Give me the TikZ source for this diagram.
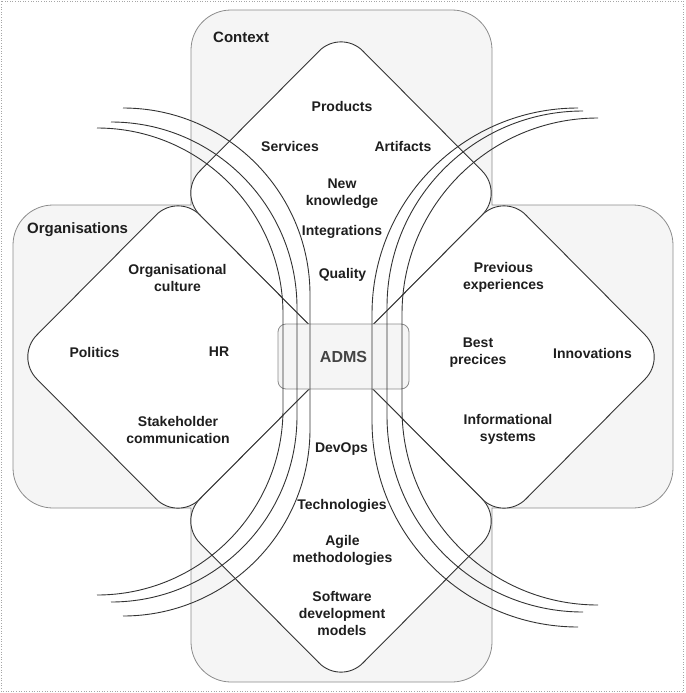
\documentclass[tikz,border=0pt]{standalone}
\usepackage{fontspec}
\setmainfont{Liberation Sans}
\definecolor{boxfill}{HTML}{F5F5F5}
\definecolor{boxline}{HTML}{8C8C8C}
\definecolor{ink}{HTML}{333333}
\definecolor{txt}{HTML}{1E1E1E}
\definecolor{admstxt}{HTML}{444444}
\begin{document}
\begin{tikzpicture}[x=1pt,y=1pt,
  lbl/.style={align=center, inner sep=0pt, font=\fontsize{14}{17}\selectfont\bfseries, text=txt},
  ttl/.style={anchor=west, inner sep=0pt, font=\fontsize{15}{18}\selectfont\bfseries, text=txt},
  dia/.style={draw=ink, fill=white, line width=0.9pt, rounded corners=31pt},
  crv/.style={draw=ink, line width=0.9pt},
  frame/.style={draw=boxline, fill=boxfill, line width=0.8pt},
]
\useasboundingbox (0,0) rectangle (685,-693);
\draw[draw=gray!70, dotted, line width=0.6pt] (1.5,-1.5) rectangle (683.5,-691.5);

% cross-shaped background of the four groups
\draw[frame] (191,-205) -- (191,-50) arc[start angle=180, end angle=90, radius=40]
  -- (452,-10) arc[start angle=90, end angle=0, radius=40]
  -- (492,-205) -- (633,-205) arc[start angle=90, end angle=0, radius=40]
  -- (673,-468) arc[start angle=0, end angle=-90, radius=40]
  -- (492,-508) -- (492,-642) arc[start angle=0, end angle=-90, radius=40]
  -- (231,-682) arc[start angle=-90, end angle=-180, radius=40]
  -- (191,-508) -- (53,-508) arc[start angle=-90, end angle=-180, radius=40]
  -- (13,-245) arc[start angle=180, end angle=90, radius=40] -- cycle;

% diamond vertices
\coordinate (C) at (341,-357);
\coordinate (TT) at (341,-29);
\coordinate (TL) at (178,-193);
\coordinate (TR) at (504,-193);
\coordinate (LL) at (15,-357);
\coordinate (RR) at (667,-357);
\coordinate (BL) at (178,-521);
\coordinate (BR) at (504,-521);
\coordinate (BB) at (341,-685);

\draw[dia] (C) -- (TL) -- (TT) -- (TR) -- cycle;
\draw[dia] (C) -- (TL) -- (LL) -- (BL) -- cycle;
\draw[dia] (C) -- (TR) -- (RR) -- (BR) -- cycle;
\draw[dia] (C) -- (BL) -- (BB) -- (BR) -- cycle;

% central box
\node[draw=boxline, fill=boxfill, line width=0.8pt, rounded corners=8pt,
      minimum width=131pt, minimum height=65pt, inner sep=0pt,
      font=\fontsize{16}{19}\selectfont\bfseries, text=admstxt] (adms) at (343.5,-356.5) {ADMS};

% curved bands, left
\draw[crv] (123,-108) arc[start angle=90, end angle=0, radius=187] -- (310,-429) arc[start angle=0, end angle=-90, radius=187];
\draw[crv] (111,-122) arc[start angle=90, end angle=0, radius=186] -- (297,-416) arc[start angle=0, end angle=-90, radius=186];
\draw[crv] (97,-128) arc[start angle=90, end angle=0, radius=186] -- (283,-409) arc[start angle=0, end angle=-90, radius=186];
% curved bands, right
\draw[crv] (578,-108) arc[start angle=90, end angle=180, radius=206] -- (372,-421) arc[start angle=180, end angle=270, radius=206];
\draw[crv] (583,-111) arc[start angle=90, end angle=180, radius=196] -- (387,-416) arc[start angle=180, end angle=270, radius=196];
\draw[crv] (598,-118) arc[start angle=90, end angle=180, radius=196] -- (402,-409) arc[start angle=180, end angle=270, radius=196];

% titles
\node[ttl] (context) at (213,-37) {Context};
\node[ttl] (orgs) at (27,-230) {Organisations};

% top group
\node[lbl] (products) at (342,-106.5) {Products};
\node[lbl] (services) at (290,-146.5) {Services};
\node[lbl] (artifacts) at (403,-146.5) {Artifacts};
\node[lbl] (newk) at (342,-193.5) {New\\knowledge};
\node[lbl] (integr) at (342,-231.5) {Integrations};
\node[lbl] (quality) at (342.5,-274.5) {Quality};

% left group
\node[lbl] (orgcult) at (177.5,-277.5) {Organisational\\culture};
\node[lbl] (politics) at (94.5,-352) {Politics};
\node[lbl] (hr) at (219,-352) {HR};
\node[lbl] (stake) at (178,-429.5) {Stakeholder\\communication};

% right group
\node[lbl] (prev) at (503.5,-277.5) {Previous\\experiences};
\node[lbl] (best) at (478,-353) {Best\\precices};
\node[lbl] (innov) at (592.5,-353) {Innovations};
\node[lbl] (infsys) at (508,-429.5) {Informational\\systems};

% bottom group
\node[lbl] (devops) at (341.5,-449.5) {DevOps};
\node[lbl] (tech) at (342,-505.5) {Technologies};
\node[lbl] (agile) at (342.5,-550.5) {Agile\\methodologies};
\node[lbl] (sdm) at (342,-613) {Software\\development\\models};
\end{tikzpicture}
\end{document}
